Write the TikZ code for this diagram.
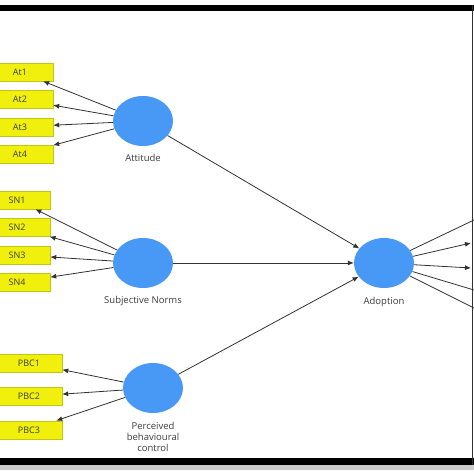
\documentclass[tikz,border=0pt]{standalone}
\usepackage{fontspec}
\setmainfont{Open Sans}
\usepackage{xcolor}
\usetikzlibrary{arrows.meta,positioning,shapes.geometric}
\definecolor{lvblue}{RGB}{72,152,245}
\definecolor{indyellow}{RGB}{240,240,12}
\definecolor{indborder}{RGB}{196,196,20}
\definecolor{pathgray}{RGB}{50,50,50}
\definecolor{labelgray}{RGB}{60,60,60}

\begin{document}
\begin{tikzpicture}[
    x=1pt, y=-1pt,
    node distance=9pt,
    ind/.style={draw=indborder, fill=indyellow, minimum width=66pt, minimum height=18pt, inner sep=0pt, text=labelgray, font=\fontsize{9}{10}\selectfont},
    latent/.style={ellipse, fill=lvblue, minimum width=60pt, minimum height=50pt, inner sep=0pt},
    lbl/.style={align=center, inner sep=1pt, text=labelgray, font=\fontsize{9.5}{11}\selectfont},
    arrow/.style={-{Latex[length=6pt, width=5pt]}, pathgray, line width=0.8pt}
  ]
    \useasboundingbox (0,0) rectangle (474,474);
    \clip (0,0) rectangle (474,474);

    % frame
    \fill[black] (0,5) rectangle (474,11);
    \fill[black!20] (0,465) rectangle (474,470);
    \fill[black] (0,458) rectangle (474,465);
    \draw[black!80, line width=0.8pt] (472,5) -- (472,465);

    % latent variables
    \node[latent] (att) at (143,121) {};
    \node[latent] (sn) at (143,263) {};
    \node[latent] (pbc) at (153,388) {};
    \node[latent] (adopt) at (384,263) {};
    \node[lbl, below=7pt of att] (attlbl) {Attitude};
    \node[lbl, below=7pt of sn] (snlbl) {Subjective Norms};
    \node[lbl, below=8pt of pbc] (pbclbl) {Perceived\\behavioural\\control};
    \node[lbl, below=8pt of adopt] (adoptlbl) {Adoption};

    % indicators
    \node[ind] (at1) at (20,72) {At1};
    \node[ind, below=of at1] (at2) {At2};
    \node[ind, below=of at2] (at3) {At3};
    \node[ind, below=of at3] (at4) {At4};
    \node[ind] (sn1) at (17,200) {SN1};
    \node[ind, below=of sn1] (sn2) {SN2};
    \node[ind, below=of sn2] (sn3) {SN3};
    \node[ind, below=of sn3] (sn4) {SN4};
    \node[ind] (pbc1) at (29,363) {PBC1};
    \node[ind, below=15pt of pbc1] (pbc2) {PBC2};
    \node[ind, below=15pt of pbc2] (pbc3) {PBC3};

    % ends of the outer loadings
    \coordinate (out1) at (474,220);
    \coordinate (out2) at (471,243);
    \coordinate (out3) at (471,268);
    \coordinate (out4) at (474,290);
    \coordinate (out5) at (474,308);

    \foreach \i in {1,...,4} {
      \draw[arrow] (att) -- (at\i);
      \draw[arrow] (sn) -- (sn\i);
    }
    \foreach \i in {1,2,3}
      \draw[arrow] (pbc) -- (pbc\i);

    \draw[arrow] (att) -- (adopt);
    \draw[arrow] (sn) -- (adopt);
    \draw[arrow] (pbc) -- (adopt);

    \draw[pathgray, line width=0.8pt] (adopt) -- (out1);
    \draw[arrow] (adopt) -- (out2);
    \draw[arrow] (adopt) -- (out3);
    \draw[pathgray, line width=0.8pt] (adopt) -- (out4);
    \draw[pathgray, line width=0.8pt] (adopt) -- (out5);
  \end{tikzpicture}
\end{document}
